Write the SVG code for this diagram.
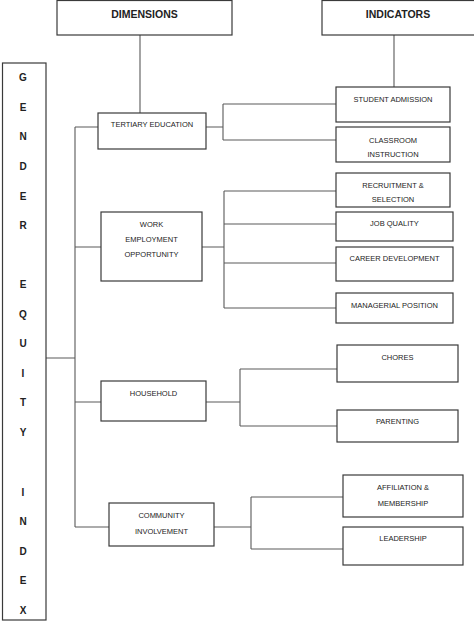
<svg xmlns="http://www.w3.org/2000/svg" width="474" height="621" viewBox="0 0 474 621">
<style>
.box{fill:#fff;stroke:#3a3a3a;stroke-width:1.2}
.con{fill:none;stroke:#5a5a5a;stroke-width:1.1}
.t{font-family:"Liberation Sans",Arial,sans-serif;font-size:7.5px;fill:#222;text-anchor:middle}
.h{font-family:"Liberation Sans",Arial,sans-serif;font-size:10.5px;font-weight:bold;fill:#222;text-anchor:middle}
.g{font-family:"Liberation Sans",Arial,sans-serif;font-size:10px;font-weight:bold;fill:#222;text-anchor:middle}
</style>
<rect width="474" height="621" fill="#fff"/>
<g id="connectors">
<path class="con" d="M140,35V113M394,35V87M46,358H75M75,127V527M75,127H98M75,247H101M75,402H101M75,527H109"/>
<path class="con" d="M206,127H223M223,104V140M223,104H336M223,140H336"/>
<path class="con" d="M202,247H224M224,191V308M224,191H336M224,224H336M224,263H336M224,308H336"/>
<path class="con" d="M206,402H240M240,369V426M240,369H337M240,426H337"/>
<path class="con" d="M214,527H251M251,497V549M251,497H343M251,549H343"/>
</g>
<g id="dimensions"><rect class="box" x="57" y="0.5" width="175" height="34.5"/><text class="h" x="144.5" y="18">DIMENSIONS</text></g>
<g id="indicators"><rect class="box" x="322" y="0.5" width="156" height="34.5"/><text class="h" x="398" y="18">INDICATORS</text></g>
<g id="gender-equity-index">
<rect class="box" x="2.5" y="63" width="43.5" height="557"/>
<text class="g" x="23" y="80.5">G</text>
<text class="g" x="23" y="110.5">E</text>
<text class="g" x="23" y="139.5">N</text>
<text class="g" x="23" y="169.5">D</text>
<text class="g" x="23" y="199.5">E</text>
<text class="g" x="23" y="228.5">R</text>
<text class="g" x="23" y="287.5">E</text>
<text class="g" x="23" y="317.5">Q</text>
<text class="g" x="23" y="346.5">U</text>
<text class="g" x="23" y="376.5">I</text>
<text class="g" x="23" y="405.5">T</text>
<text class="g" x="23" y="435.5">Y</text>
<text class="g" x="23" y="495.5">I</text>
<text class="g" x="23" y="524.5">N</text>
<text class="g" x="23" y="554.5">D</text>
<text class="g" x="23" y="583.5">E</text>
<text class="g" x="23" y="613.5">X</text>
</g>
<g id="tertiary-education"><rect class="box" x="98" y="113" width="108" height="36"/><text class="t" x="152" y="127">TERTIARY EDUCATION</text></g>
<g id="work-employment"><rect class="box" x="101" y="212" width="101" height="69"/><text class="t" x="151.5" y="227">WORK</text><text class="t" x="151.5" y="242">EMPLOYMENT</text><text class="t" x="151.5" y="257">OPPORTUNITY</text></g>
<g id="household"><rect class="box" x="101" y="381" width="105" height="40"/><text class="t" x="153.5" y="396">HOUSEHOLD</text></g>
<g id="community-involvement"><rect class="box" x="109" y="503" width="105" height="43"/><text class="t" x="161.5" y="518">COMMUNITY</text><text class="t" x="161.5" y="534">INVOLVEMENT</text></g>
<g id="student-admission"><rect class="box" x="336" y="87" width="114" height="35"/><text class="t" x="393" y="102">STUDENT ADMISSION</text></g>
<g id="classroom-instruction"><rect class="box" x="336" y="127" width="114" height="35"/><text class="t" x="393" y="143">CLASSROOM</text><text class="t" x="393" y="157">INSTRUCTION</text></g>
<g id="recruitment-selection"><rect class="box" x="336" y="173" width="114" height="34"/><text class="t" x="393" y="188">RECRUITMENT &amp;</text><text class="t" x="393" y="202">SELECTION</text></g>
<g id="job-quality"><rect class="box" x="336" y="212" width="117" height="29"/><text class="t" x="394.5" y="226">JOB QUALITY</text></g>
<g id="career-development"><rect class="box" x="336" y="247" width="117" height="34"/><text class="t" x="394.5" y="261">CAREER DEVELOPMENT</text></g>
<g id="managerial-position"><rect class="box" x="336" y="293" width="117" height="30"/><text class="t" x="394.5" y="308">MANAGERIAL POSITION</text></g>
<g id="chores"><rect class="box" x="337" y="345" width="121" height="37"/><text class="t" x="397.5" y="360">CHORES</text></g>
<g id="parenting"><rect class="box" x="337" y="410" width="121" height="32"/><text class="t" x="397.5" y="424">PARENTING</text></g>
<g id="affiliation-membership"><rect class="box" x="343" y="475" width="120" height="42"/><text class="t" x="403" y="490">AFFILIATION &amp;</text><text class="t" x="403" y="506">MEMBERSHIP</text></g>
<g id="leadership"><rect class="box" x="343" y="527" width="120" height="38"/><text class="t" x="403" y="541">LEADERSHIP</text></g>
</svg>
